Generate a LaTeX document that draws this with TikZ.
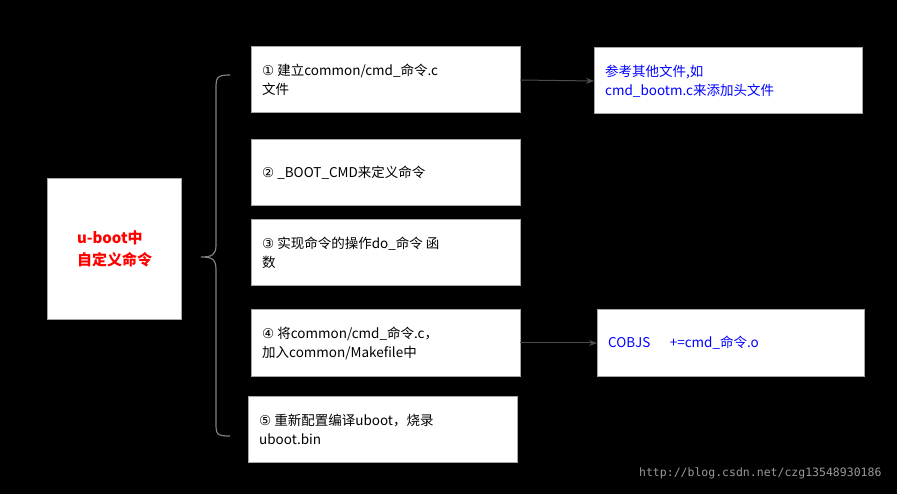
\documentclass[tikz,border=0pt]{standalone}
\usepackage{fontspec}
\setmainfont{Open Sans}
\newfontfamily\cjk{Noto Sans CJK SC}
\newfontfamily\wmono{DejaVu Sans Mono}
\newfontfamily\circfont{DejaVu Sans}
\usetikzlibrary{arrows.meta}
\begin{document}
\begin{tikzpicture}[x=1pt,y=-1pt,
  conn/.style={draw=gray!60!black,line width=1pt,-{Stealth[length=8pt,width=6pt]}}]
\fill[black] (0,0) rectangle (897,494);
\useasboundingbox (0,0) rectangle (897,494);
\node[draw=gray!70,line width=1pt,fill=white,minimum width=134pt,minimum height=141pt,anchor=north west,
  text=red,font=\cjk\bfseries\fontsize{15}{22}\selectfont,align=left] (root) at (47,178) {u-boot中\\自定义命令};
\newcommand{\bx}[6]{\path[draw=gray!70,line width=1pt,fill=white] (#2,#3) rectangle (#4,#5);
  \node[anchor=west,align=left,inner sep=0pt,font=\cjk\fontsize{13.5}{19}\selectfont] (#1) at (#2+11,{(#3+#5)/2}) {#6};
  \coordinate (#1w) at (#2,{(#3+#5)/2}); \coordinate (#1e) at (#4,{(#3+#5)/2});}
\bx{a}{251}{47}{520}{113}{{\circfont\char"2460} 建立common/cmd\_命令.c\\文件}
\bx{b}{251}{140}{520}{206}{{\circfont\char"2461} \_BOOT\_CMD来定义命令}
\bx{c}{251}{220}{520}{286}{{\circfont\char"2462} 实现命令的操作do\_命令 函\\数}
\bx{d}{251}{310}{520}{376}{{\circfont\char"2463} 将common/cmd\_命令.c，\\加入common/Makefile中}
\bx{e}{248}{396}{517}{462}{{\circfont\char"2464} 重新配置编译uboot，烧录\\uboot.bin}
\bx{f}{594}{48}{862}{114}{\textcolor{blue}{参考其他文件,如}\\\textcolor{blue}{cmd\_bootm.c来添加头文件}}
\bx{g}{597}{310}{864}{376}{\textcolor{blue}{COBJS\quad\ \ +=cmd\_命令.o}}
\draw[conn] (ae) -- (fw);
\draw[conn] (de) -- (gw);
\coordinate (tip) at (201,257);
\draw[gray,line width=1.2pt] (230,75) .. controls (216,75) and (216,78) .. (216,90) -- (216,245)
  .. controls (216,255) and (212,257) .. (tip) .. controls (212,257) and (216,259) .. (216,270)
  -- (216,422) .. controls (216,434) and (216,436) .. (230,436);
\node[text=gray!80,font=\wmono\fontsize{11.5}{13}\selectfont,anchor=east] (wm) at (885,473) {http://blog.csdn.net/czg13548930186};
\end{tikzpicture}
\end{document}
